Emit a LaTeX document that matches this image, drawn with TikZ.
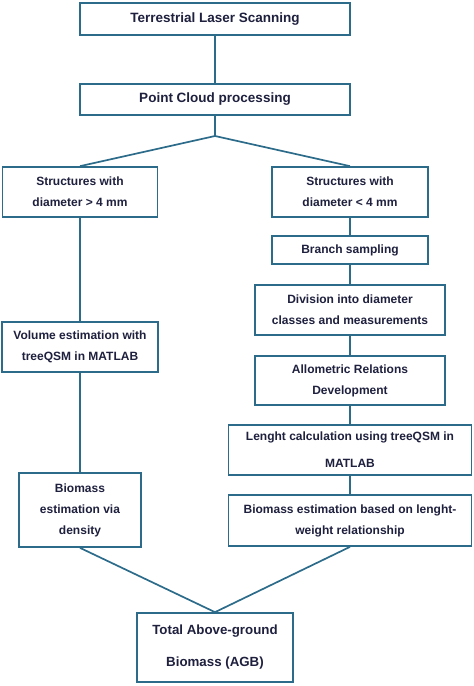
\documentclass[tikz,border=0pt]{standalone}
\usepackage{fontspec}
\setmainfont{Liberation Sans}
\definecolor{boxc}{RGB}{44,108,138}
\definecolor{txtc}{RGB}{30,32,62}
\begin{document}
\begin{tikzpicture}[x=1pt,y=-1pt,
  box/.style={draw=boxc,line width=1.7pt,fill=white,inner sep=0pt,align=center,text=txtc,
    font=\bfseries\fontsize{12}{21}\selectfont},
  bigbox/.style={box,font=\bfseries\fontsize{13.5}{21}\selectfont},
  conn/.style={draw=boxc,line width=1.7pt}]
\useasboundingbox (0,0) rectangle (474,686);
\node[bigbox,minimum width=270,minimum height=32] (tls) at (215,19) {Terrestrial Laser Scanning};
\node[bigbox,minimum width=270,minimum height=31] (pcp) at (215,99.5) {Point Cloud processing};
\coordinate (j) at (215,136);
\node[box,minimum width=155,minimum height=50] (s1) at (80,192) {Structures with\\diameter > 4 mm};
\node[box,minimum width=156,minimum height=50] (s2) at (350,192) {Structures with\\diameter < 4 mm};
\node[box,minimum width=156,minimum height=28] (bs) at (350,250) {Branch sampling};
\node[box,minimum width=190,minimum height=50] (div) at (350,310) {Division into diameter\\classes and measurements};
\node[box,minimum width=190,minimum height=49] (all) at (350,380.5) {Allometric Relations\\Development};
\node[box,minimum width=243,minimum height=50,font=\bfseries\fontsize{12}{27}\selectfont] (len) at (350,450) {Lenght calculation using treeQSM in\\MATLAB};
\node[box,minimum width=243,minimum height=51] (bio2) at (350,520.5) {Biomass estimation based on lenght-\\weight relationship};
\node[box,minimum width=156,minimum height=50] (vol) at (80,347) {Volume estimation with\\treeQSM in MATLAB};
\node[box,minimum width=122,minimum height=74] (bio1) at (80,510) {Biomass\\estimation via\\density};
\node[box,minimum width=156,minimum height=69,font=\bfseries\fontsize{13.3}{32}\selectfont] (agb) at (215,647.5) {Total Above-ground\\Biomass (AGB)};
\path[conn] (tls.south) -- (pcp.north);
\path[conn] (pcp.south) -- (j);
\path[conn] (j) -- (s1.north);
\path[conn] (j) -- (s2.north);
\path[conn] (s1.south) -- (vol.north);
\path[conn] (vol.south) -- (bio1.north);
\path[conn] (s2.south) -- (bs.north);
\path[conn] (bs.south) -- (div.north);
\path[conn] (div.south) -- (all.north);
\path[conn] (all.south) -- (len.north);
\path[conn] (len.south) -- (bio2.north);
\path[conn] (bio1.south) -- (agb.north);
\path[conn] (bio2.south) -- (agb.north);
\end{tikzpicture}
\end{document}
